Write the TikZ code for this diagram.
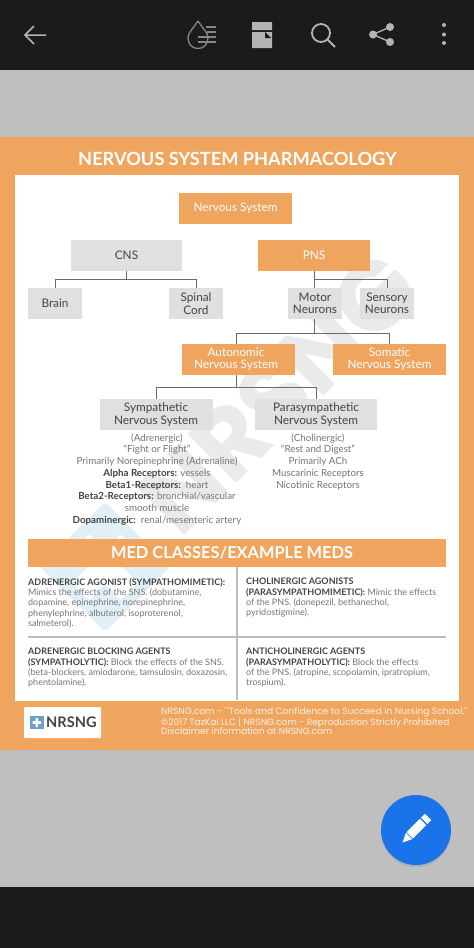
\documentclass[tikz,border=0pt]{standalone}
\usepackage{fontspec}
\setmainfont{Lato}
\newfontfamily\footfont{Poppins}
\usepackage{tikz}
\usetikzlibrary{
arrows.meta,
positioning,
shadows
}
\definecolor{nrorange}{HTML}{F0A55F}
\definecolor{nrgray}{HTML}{E0E0E0}
\definecolor{nrtext}{HTML}{757575}
\definecolor{nrdark}{HTML}{444444}
\definecolor{nrline}{HTML}{6A6A6A}
\definecolor{nrrule}{HTML}{BDBDBD}
\definecolor{nrbar}{HTML}{1B1B1B}
\definecolor{nrback}{HTML}{BFBFBF}
\definecolor{nricon}{HTML}{B4B4B4}
\definecolor{nrfab}{HTML}{1A73E8}
\definecolor{nrmark}{HTML}{EAEAEA}
\definecolor{nrmarkblue}{HTML}{E2EFF6}
\definecolor{nrplus}{HTML}{6FA0C8}
\newcommand{\hd}[1]{\textbf{\textcolor{nrdark}{#1}}}

\begin{document}
\begin{tikzpicture}[
  x=1pt, y=-1pt,
  orangebox/.style={fill=nrorange, text=white, minimum height=31pt, align=center, inner sep=0pt, font=\fontsize{11.8}{11.8}\selectfont},
  graybox/.style={fill=nrgray, text=nrdark, minimum height=31pt, align=center, inner sep=0pt, font=\fontsize{11.8}{11.8}\selectfont},
  conn/.style={draw=nrline, line width=1pt},
  bodytext/.style={text=nrtext, align=center, inner sep=0pt, font=\fontsize{9.75}{11.7}\selectfont},
  medtext/.style={text=nrtext, align=left, anchor=north west, inner sep=0pt, font=\fontsize{9}{10.3}\selectfont},
  icon/.style={draw=nricon, line width=1.8pt}
]
\useasboundingbox (0,0) rectangle (474,948);

% Screen
\fill[nrback] (0,0) rectangle (474,948);
\fill[nrbar] (0,0) rectangle (474,70);
\fill[nrbar] (0,887) rectangle (474,948);

% Top bar icons
\draw[icon, line width=1.5pt] (46,35) -- (25,35) (34,26) -- (25,35) -- (34,44);
\draw[icon, draw=nricon!75!black, line width=1.3pt] (198,21) .. controls (192,30) and (188,33) .. (188,38) .. controls (188,52) and (208,52) .. (208,38) .. controls (208,33) and (204,30) .. (198,21);
\foreach \yy/\xa in {27/206,32/207,37/198,42/198}
  \draw[icon, draw=nricon!75!black, line width=1.3pt] (\xa,\yy) -- (216,\yy);
\fill[nricon] (252,22) rectangle (272,30) (252,32) rectangle (272,48);
\fill[nrbar] (265,32) -- (271,38) -- (265,38) -- cycle;
\draw[icon] (321,33) circle (9);
\draw[icon] (327.5,39.5) -- (335,47);
\draw[icon, line width=1.3pt] (373,34.5) -- (390,27) (373,34.5) -- (390,42);
\fill[nricon] (390,27) circle (4) (373,34.5) circle (4) (390,42) circle (4);
\foreach \yy in {25,34.5,43}
  \fill[nricon] (444,\yy) circle (2);

% Poster
\fill[nrorange] (0,137) rectangle (474,750);
\fill[white] (15,175) rectangle (459,701);
\node[text=white, font=\fontsize{18.2}{20}\selectfont\bfseries] (title) at (237.5,159) {NERVOUS SYSTEM PHARMACOLOGY};

% Watermark
\begin{scope}[shift={(105,567)}, rotate=45]
  \fill[nrmarkblue, rounded corners=4pt] (-46,-46) rectangle (46,46);
  \fill[white] (-12,-34) rectangle (12,34) (-34,-12) rectangle (34,12);
\end{scope}
\node[text=nrmark, rotate=45, anchor=base east, inner sep=0pt, font=\footfont\fontsize{98}{98}\selectfont\bfseries] (mark) at (425,295) {NRSNG};

% Tree
\coordinate (autotop) at (236,344);
\coordinate (autobot) at (236,375);
\node[orangebox, minimum width=113pt] (nervous) at (235.5,208.5) {Nervous System};
\node[graybox, minimum width=111pt] (cns) at (126.5,255.5) {CNS};
\node[orangebox, minimum width=112pt] (pns) at (314,255.5) {PNS};
\node[graybox, minimum width=54pt] (brain) at (55,303.5) {Brain};
\node[graybox, minimum width=54pt] (cord) at (196,303.5) {Spinal\\[1.2pt]Cord};
\node[graybox, minimum width=54pt] (motor) at (315,303.5) {Motor\\Neurons};
\node[graybox, minimum width=54pt] (sensory) at (387,303.5) {Sensory\\Neurons};
\node[orangebox, minimum width=113pt] (autonomic) at (238.5,359.5) {\hspace*{-5pt}Autonomic\\\hspace*{-5pt}Nervous System};
\node[orangebox, minimum width=113pt] (somatic) at (389.5,359.5) {Somatic\\Nervous System};
\node[graybox, minimum width=113pt] (sympathetic) at (156,414.5) {Sympathetic\\[1.5pt]Nervous System};
\node[graybox, minimum width=122pt] (parasym) at (316,414.5) {Parasympathetic\\[1.5pt]Nervous System};

\draw[conn] (cns.south) -- ++(0,8) -| (brain.north);
\draw[conn] (cns.south) -- ++(0,8) -| (cord.north);
\draw[conn] (pns.south) -- (pns.south |- motor.north);
\draw[conn] (pns.south) -- ++(0,8) -| (sensory.north);
\draw[conn] (motor.south -| pns.south) -- ++(0,14) -| (autotop);
\draw[conn] (motor.south -| pns.south) -- ++(0,14) -| (somatic.north);
\draw[conn] (autobot) -- ++(0,12) -| (sympathetic.north);
\draw[conn] (autobot) -- ++(0,12) -| (parasym.north);

% Receptor lists
\node[bodytext, anchor=north] (symlist) at (157,433.5) {(Adrenergic)\\``Fight or Flight''\\Primarily Norepinephrine (Adrenaline)\\\hd{Alpha Receptors:} vessels\\\hd{Beta1-Receptors:}\ \ heart\\\hd{Beta2-Receptors:} bronchial/vascular\\smooth muscle\\\hd{Dopaminergic:}\ \ renal/mesenteric artery};
\node[bodytext, anchor=north] (paralist) at (318,433.5) {(Cholinergic)\\``Rest and Digest''\\Primarily ACh\\Muscarinic Receptors\\Nicotinic Receptors};

% Med classes
\node[fill=nrorange, minimum width=418pt, minimum height=28pt, inner sep=0pt] (band) at (237,553) {};
\node[text=white, font=\fontsize{16.4}{18}\selectfont] (bandtext) at (232,553) {\textbf{MED CLASSES/EXAMPLE MEDS}};
\coordinate (divtop) at (237,567);
\coordinate (divbot) at (237,700);
\coordinate (rulel) at (28,637);
\coordinate (ruler) at (446,637);
\draw[nrrule, line width=1.2pt] (divtop) -- (divbot);
\draw[nrrule, line width=1.2pt] (rulel) -- (ruler);
\node[medtext] (agonist) at (28,578) {\hd{ADRENERGIC AGONIST (SYMPATHOMIMETIC):}\\Mimics the effects of the SNS. (dobutamine,\\dopamine, epinephrine, norepinephrine,\\phenylephrine, albuterol, isoproterenol,\\salmeterol).};
\node[medtext] (cholin) at (246,578) {\hd{CHOLINERGIC AGONISTS}\\\hd{(PARASYMPATHOMIMETIC):} Mimic the effects\\of the PNS. (donepezil, bethanechol,\\pyridostigmine).};
\node[medtext] (blocking) at (28,648) {\hd{ADRENERGIC BLOCKING AGENTS}\\\hd{(SYMPATHOLYTIC):} Block the effects of the SNS.\\(beta-blockers, amiodarone, tamsulosin, doxazosin,\\phentolamine).};
\node[medtext] (anticholin) at (246,648) {\hd{ANTICHOLINERGIC AGENTS}\\\hd{(PARASYMPATHOLYTIC):} Block the effects\\of the PNS. (atropine, scopolamin, ipratropium,\\trospium).};

% Footer
\fill[white, rounded corners=1pt] (24,707) rectangle (101,738);
\fill[nrplus] (30,716) rectangle (43.5,729);
\fill[white] (35.5,718) rectangle (38,727) (32.5,721.2) rectangle (41,723.8);
\node[text=nrdark, anchor=west, inner sep=0pt, font=\fontsize{14.6}{15}\selectfont\bfseries] (logo) at (46,722.5) {NRSNG};
\node[text=white!85!nrorange, anchor=north west, align=left, inner sep=0pt, font=\footfont\fontsize{9.1}{9.6}\selectfont] (footer) at (161,707) {NRSNG.com - ``Tools and Confidence to Succeed in Nursing School.''\\©2017 TazKai LLC | NRSNG.com - Reproduction Strictly Prohibited\\Disclaimer information at NRSNG.com};

% Edit button
\fill[nrfab, drop shadow={opacity=0.25, shadow xshift=0pt, shadow yshift=-2pt}] (416,830) circle (35);
\begin{scope}[shift={(416,829)}, rotate=45]
  \fill[white] (-9,-4.5) rectangle (10,4.5);
  \fill[white] (11.5,-4.5) rectangle (17,4.5);
  \fill[white] (-9.8,-4.5) -- (-9.8,4.5) -- (-19,0) -- cycle;
\end{scope}
\end{tikzpicture}
\end{document}
